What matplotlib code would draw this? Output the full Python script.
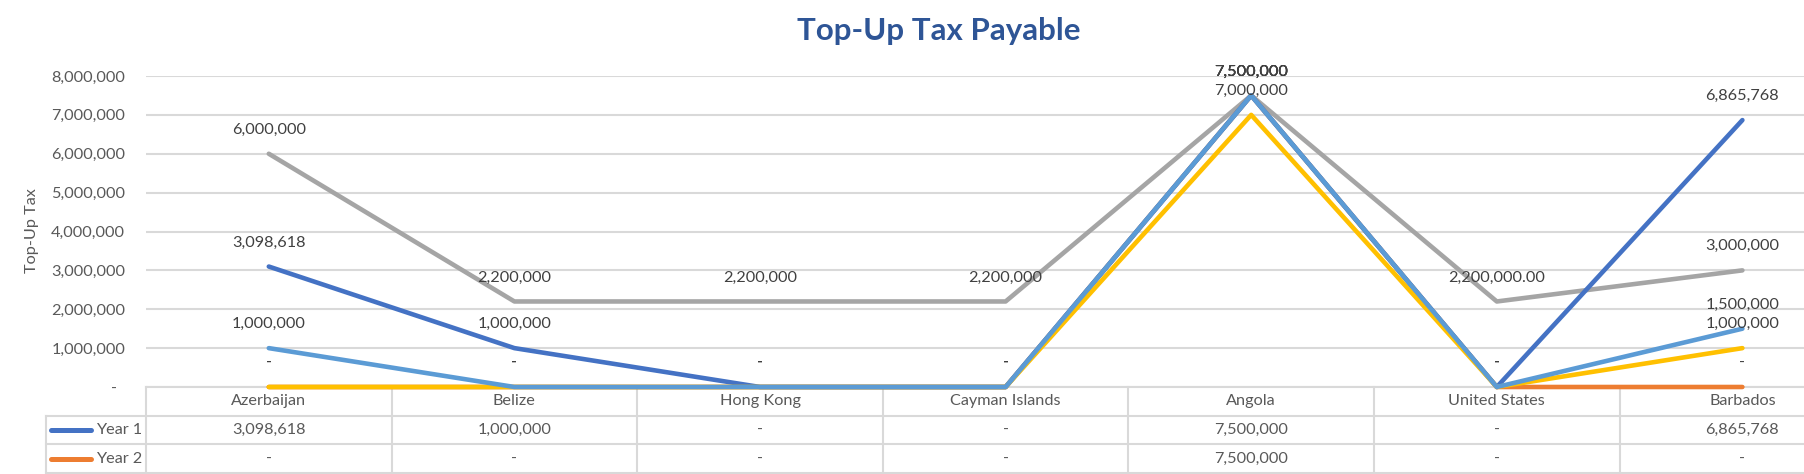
import matplotlib
matplotlib.use("Agg")
import matplotlib.pyplot as plt
import matplotlib.transforms as mtransforms
from matplotlib.ticker import FuncFormatter

plt.rcParams["font.family"] = ["Lato", "DejaVu Sans"]

# ---- data ---------------------------------------------------------------
COUNTRIES = ["Azerbaijan", "Belize", "Hong Kong", "Cayman Islands",
             "Angola", "United States", "Barbados"]

SERIES_NAMES = ["Year 1", "Year 2", "Year 3", "Year 4", "Year 5"]
YEAR1 = [3098618, 1000000, 0, 0, 7500000, 0, 6865768]
YEAR2 = [0, 0, 0, 0, 7500000, 0, 0]
YEAR3 = [6000000, 2200000, 2200000, 2200000, 7500000, 2200000, 3000000]
YEAR4 = [0, 0, 0, 0, 7000000, 0, 1000000]
YEAR5 = [1000000, 0, 0, 0, 7500000, 0, 1500000]
SERIES_VALUES = [YEAR1, YEAR2, YEAR3, YEAR4, YEAR5]

# one data label in the source is shown with two decimals
LABEL_DECIMALS = {("Year 3", "United States"): 2}

COLORS = ["#4472C4", "#ED7D31", "#A5A5A5", "#FFC000", "#5B9BD5"]
ZORDERS = [3, 2.5, 2, 4, 5]

TITLE = "Top-Up Tax Payable"
Y_LABEL = "Top-Up Tax"
# ==========================================================================

W, H = 1804, 474
TEXT_GREY = "#595959"
LABEL_GREY = "#404040"
GRID = "#D9D9D9"
FS = 11.7


def fmt(v, decimals=0):
    if v == 0:
        return "-"
    return f"{v:,.{decimals}f}"


def fy(px):
    return 1 - px / H


fig = plt.figure(figsize=(W / 100, H / 100), dpi=100)

# the source chart is wider than the picture: the last column runs off the right edge
col_w = 245.6
plot_left, plot_top, plot_bottom = 146, 76, 387
ax = fig.add_axes([plot_left / W, fy(plot_bottom), len(COUNTRIES) * col_w / W,
                   (plot_bottom - plot_top) / H])

x = list(range(len(COUNTRIES)))
for name, vals, color, z in zip(SERIES_NAMES, SERIES_VALUES, COLORS, ZORDERS):
    ax.plot(x, vals, color=color, lw=3.3, solid_capstyle="round",
            solid_joinstyle="round", zorder=z, clip_on=False)
    for i, v in enumerate(vals):
        d = LABEL_DECIMALS.get((name, COUNTRIES[i]), 0)
        ax.annotate(fmt(v, d), (i, v), xytext=(0, 17.3), textcoords="offset points",
                    ha="center", va="center", fontsize=FS, color=LABEL_GREY,
                    zorder=10, annotation_clip=False)

ax.set_xlim(-0.5, len(COUNTRIES) - 0.5)
ax.set_ylim(0, 8000000)
ax.set_yticks(range(0, 8000001, 1000000))
ax.yaxis.set_major_formatter(FuncFormatter(lambda v, p: "-  " if v == 0 else f"{v:,.0f}"))
ax.tick_params(axis="y", length=0, pad=15, labelsize=FS, labelcolor=TEXT_GREY)
ax.set_xticks([])
ax.grid(axis="y", color=GRID, lw=1.5, zorder=0)
ax.set_axisbelow(True)
for s in ax.spines.values():
    s.set_visible(False)

# ---- data table below the plot (bottom rows are cut off like the source) --
tr = mtransforms.blended_transform_factory(ax.transData, fig.transFigure)
row_h = 28.7
leg_left = -0.5 + (46 - plot_left) / col_w
n_rows = len(SERIES_NAMES) + 1
bottom = plot_bottom + n_rows * row_h
right = len(COUNTRIES) + 0.5
line_kw = dict(color=GRID, lw=1.5, transform=tr, clip_on=False, zorder=1)

ax.plot([-0.5, right], [fy(plot_bottom)] * 2, **line_kw)
for k in range(1, n_rows + 1):
    yy = fy(plot_bottom + k * row_h)
    ax.plot([leg_left, right], [yy, yy], **line_kw)
for i in range(len(COUNTRIES) + 1):
    ax.plot([i - 0.5] * 2, [fy(plot_bottom), fy(bottom)], **line_kw)
ax.plot([leg_left] * 2, [fy(plot_bottom + row_h), fy(bottom)], **line_kw)

for i, c in enumerate(COUNTRIES):
    ax.text(i, fy(plot_bottom + row_h / 2), c, transform=tr, ha="center",
            va="center", fontsize=FS, color=TEXT_GREY)

key_x0 = -0.5 + (51 - plot_left) / col_w
key_x1 = -0.5 + (91 - plot_left) / col_w
name_x = -0.5 + (96 - plot_left) / col_w
for r, (name, vals, color) in enumerate(zip(SERIES_NAMES, SERIES_VALUES, COLORS)):
    yc_px = plot_bottom + (r + 1.5) * row_h
    if yc_px > H - 8:
        break  # rows below the picture edge are not visible
    yc = fy(yc_px)
    ax.plot([key_x0, key_x1], [yc, yc], color=color, lw=3.6,
            solid_capstyle="round", transform=tr, clip_on=False)
    ax.text(name_x, yc, name, transform=tr, ha="left", va="center",
            fontsize=FS, color=TEXT_GREY)
    for i, v in enumerate(vals):
        ax.text(i, yc, fmt(v), transform=tr, ha="center", va="center",
                fontsize=FS, color=TEXT_GREY)

fig.text(939 / W, fy(40), TITLE, ha="center", va="baseline", fontsize=22.5,
         fontweight="bold", color="#2E5596")
fig.text(32 / W, fy(231), Y_LABEL, rotation=90, ha="center", va="center",
         fontsize=FS, color=TEXT_GREY)

fig.savefig("out.png", dpi=100)
